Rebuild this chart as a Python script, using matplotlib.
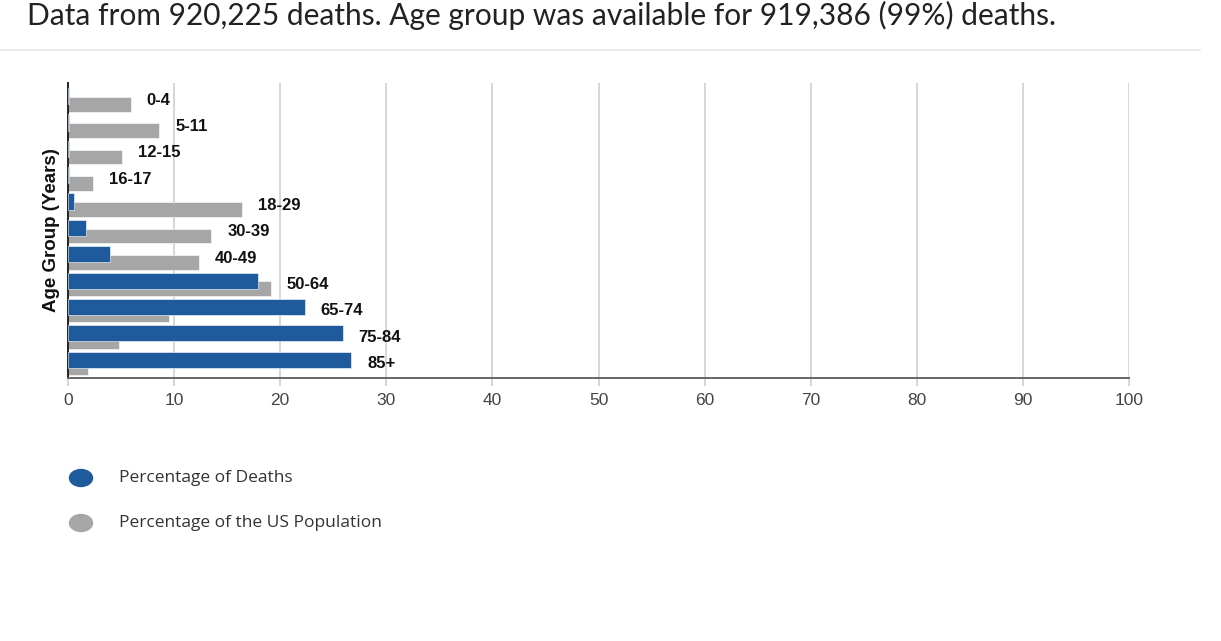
import matplotlib
matplotlib.use("Agg")
import matplotlib.pyplot as plt
from matplotlib.patches import Ellipse
import numpy as np

categories = ["0-4", "5-11", "12-15", "16-17", "18-29", "30-39", "40-49",
              "50-64", "65-74", "75-84", "85+"]
pct_deaths = [0.05, 0.05, 0.1, 0.05, 0.6, 1.7, 4.0, 17.9, 22.3, 25.9, 26.7]
pct_population = [5.9, 8.6, 5.1, 2.4, 16.4, 13.5, 12.3, 19.1, 9.5, 4.8, 1.9]
x_ticks = [0, 10, 20, 30, 40, 50, 60, 70, 80, 90, 100]

title = "Data from 920,225 deaths. Age group was available for 919,386 (99%) deaths."
legend_labels = ["Percentage of Deaths", "Percentage of the US Population"]

BLUE = "#1f5b9c"
GRAY = "#a6a6a6"

W, H = 1221, 641
fig = plt.figure(figsize=(W / 100, H / 100), dpi=100)

def fx(px):
    return px / W

def fy(py):
    return 1 - py / H

# Title and separator
fig.text(fx(27), fy(15), title, family="Lato", fontsize=21.5, color="#222222",
         va="center", ha="left")
fig.add_artist(plt.Line2D([0, fx(1200)], [fy(50), fy(50)], color="#e6e6e6", lw=1.2))

# Axes
left, right, top, bottom = 68, 1129, 83, 378
ax = fig.add_axes([fx(left), fy(bottom), fx(right - left), (bottom - top) / H])

y = np.arange(len(categories))
ax.barh(y + 0.16, pct_population, height=0.56, color=GRAY, edgecolor="white",
        linewidth=0.4, zorder=2)
ax.barh(y - 0.15, pct_deaths, height=0.61, color=BLUE, edgecolor="white",
        linewidth=0.4, zorder=3)

for i, cat in enumerate(categories):
    xm = max(pct_deaths[i], pct_population[i])
    ax.text(xm + 1.5, i, cat, family="Liberation Sans", fontweight="bold",
            fontsize=12, va="center", ha="left", color="#111111", zorder=4)

ax.set_xlim(0, 100)
ax.set_ylim(10.55, -0.65)
ax.set_xticks(x_ticks)
ax.set_xticklabels([str(t) for t in x_ticks], family="Liberation Sans",
                   fontsize=12.5, color="#444444")
ax.set_yticks([])
ax.grid(axis="x", color="#d3d3d3", linewidth=1.3, zorder=0)
ax.set_axisbelow(True)
ax.tick_params(axis="x", length=6, color="#d3d3d3", width=1.3, pad=5)
for s in ["top", "right"]:
    ax.spines[s].set_visible(False)
ax.spines["left"].set_color("#222222")
ax.spines["left"].set_linewidth(1.4)
ax.spines["bottom"].set_color("#666666")
ax.spines["bottom"].set_linewidth(1.4)
ax.set_ylabel("Age Group (Years)", family="Liberation Sans", fontweight="bold",
              fontsize=13.5, color="#111111", labelpad=6)

# Legend
for k, (lab, col) in enumerate(zip(legend_labels, [BLUE, GRAY])):
    yy = 478 + k * 45
    e = Ellipse((fx(81), fy(yy)), width=fx(23), height=17 / H, color=col,
                transform=fig.transFigure)
    fig.add_artist(e)
    fig.text(fx(119), fy(yy), lab, family="Open Sans", fontsize=12.5,
             color="#333333", va="center", ha="left")

fig.savefig("out.png", dpi=100, facecolor="white")
